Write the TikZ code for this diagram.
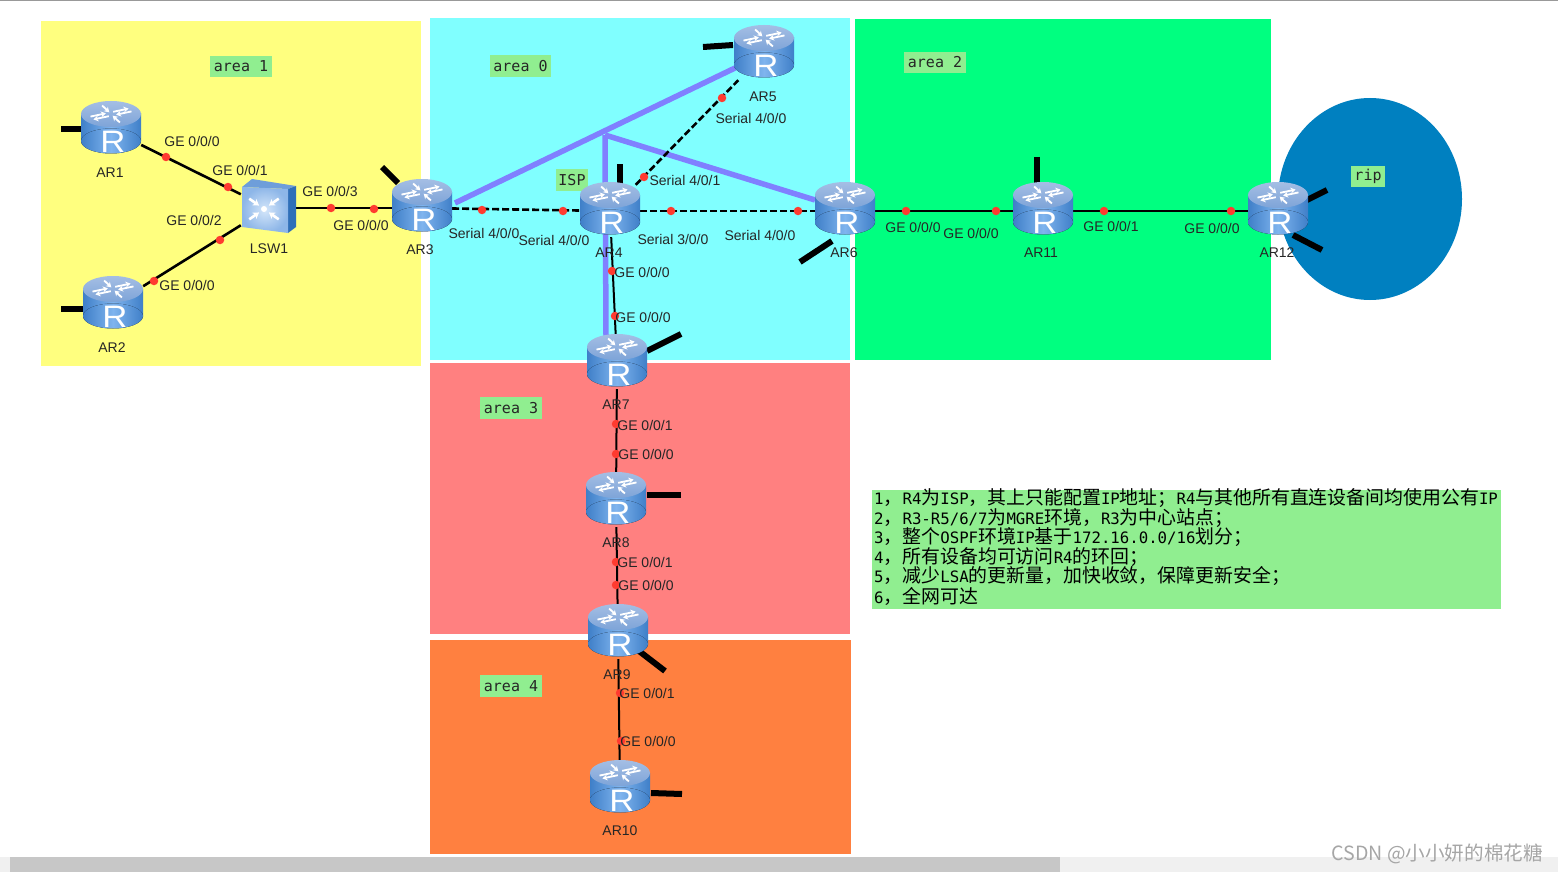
\documentclass[tikz,border=0pt]{standalone}
\usepackage{fontspec}
\setmainfont{Liberation Sans}
\setmonofont{DejaVu Sans Mono}
\newfontfamily\cjk{Noto Sans CJK SC}
\usetikzlibrary{arrows.meta,shapes.geometric}
\definecolor{tagg}{HTML}{90EE90}
\definecolor{purp}{HTML}{8080FF}
\definecolor{rdotc}{HTML}{FF3B30}
\definecolor{rbodyd}{HTML}{3F7FC8}
\definecolor{rbodym}{HTML}{7FB4EE}
\definecolor{rtopa}{HTML}{A4BEE4}
\definecolor{rtopb}{HTML}{7EA4D8}
\definecolor{swtop}{HTML}{6E9EDA}
\definecolor{swright}{HTML}{2F6FB8}
\definecolor{swin}{HTML}{D4E6FA}
\definecolor{swout}{HTML}{8DB6E8}
\newcommand\Mo[1]{{\ttfamily\fontsize{15.7}{15.7}\selectfont #1}}
\newcommand\Ch[1]{{\cjk\fontsize{18.9}{18.9}\selectfont #1}}
\tikzset{
  x=1pt,y=-1pt,
  area/.style={draw=none,inner sep=0pt},
  tag/.style={fill=tagg,inner sep=0pt,font=\ttfamily\fontsize{15}{15}\selectfont,text=black!85},
  lab/.style={inner sep=0pt,font=\fontsize{14}{14}\selectfont,text=black!85},
  rdot/.style={circle,fill=rdotc,inner sep=0pt,minimum size=8.5pt},
  dev/.style={inner sep=0pt,minimum width=60pt,minimum height=52pt},
  link/.style={line width=2.6pt,black},
  dlink/.style={line width=2.6pt,black,dash pattern=on 7pt off 3pt},
  tun/.style={line width=5.5pt,purp},
  stub/.style={line width=6pt,black},
  wharrow/.style={white,line width=1.8pt,-{Stealth[length=5pt,width=6pt]}},
  infoline/.style={anchor=west,inner sep=0pt}
}
\newcommand\routericon[2]{%
\begin{scope}[shift={(#1)}]
  \fill[left color=rbodyd,right color=rbodyd,middle color=rbodym] (-30,-16) rectangle (30,11);
  \fill[left color=rbodyd,right color=rbodyd,middle color=rbodym] (0,11) ellipse [x radius=30,y radius=12.5];
  \shade[top color=rtopa,bottom color=rtopb] (0,-16) ellipse [x radius=30,y radius=13];
  \begin{scope}[shift={(0,-16)},yscale=0.45]
    \foreach \r/\s in {25/1,115/-1,205/1,295/-1}{
      \begin{scope}[rotate=\r]
        \ifnum\s=1 \draw[wharrow] (4,-3.5) -- (21,-3.5); \draw[wharrow] (21,3.5) -- (4,3.5);
        \else \draw[wharrow] (21,0) -- (4,0); \fi
      \end{scope}
    }
  \end{scope}
  \node[inner sep=0pt,text=white,font=\fontsize{31}{31}\selectfont,xscale=1.12] (#2r) at (2,12) {R};
\end{scope}}
\newcommand\Lb[4]{\node[lab] (#1) at (#2,#3) {#4};}
\begin{document}
\begin{tikzpicture}
\useasboundingbox (0,0) rectangle (1558,872);
\fill[white] (0,0) rectangle (1558,872);
\draw[line width=1pt,black!40] (0,0.5) -- (1558,0.5);
% areas
\node[area,fill={rgb,255:red,255;green,255;blue,127},minimum width=380pt,minimum height=345pt] (area1) at (231,193.5) {};
\node[area,fill={rgb,255:red,128;green,255;blue,255},minimum width=420pt,minimum height=342pt] (area0) at (640,189) {};
\node[area,fill={rgb,255:red,0;green,128;blue,192},ellipse,minimum width=184pt,minimum height=202pt] (ripzone) at (1370,199) {};
\node[area,fill={rgb,255:red,0;green,255;blue,128},minimum width=416pt,minimum height=341pt] (area2) at (1063,189.5) {};
\node[area,fill={rgb,255:red,255;green,128;blue,128},minimum width=420pt,minimum height=271pt] (area3) at (640,498.5) {};
\node[area,fill={rgb,255:red,255;green,128;blue,64},minimum width=421pt,minimum height=214pt] (area4) at (640.5,747) {};
% tags
\foreach \n/\t/\a/\b/\w/\h in {t1/area 1/241/66.5/62/21, t0/area 0/520.5/66/61/22, t2/area 2/935/62.5/62/21, t3/area 3/511/408/62/22, t4/area 4/511/686/62/22, tisp/ISP/572/180/32/22, trip/rip/1368/176.5/34/21}{
  \node[tag,minimum width=\w pt,minimum height=\h pt] (\n) at (\a,\b) {\t};
}
% devices
\foreach \n/\a/\b in {AR1/111/130,AR2/113/305,AR3/422/208,AR4/610/211,AR5/764/54,AR6/845/211,AR7/617/363,AR8/616/501,AR9/618/633,AR10/620/789,AR11/1043/211,AR12/1278/211}{
  \node[dev] (\n) at (\a,\b) {};
}
\node[inner sep=0pt,minimum width=55pt,minimum height=54pt] (LSW1) at (268.5,208) {};
% tunnel
\coordinate (tunA) at (455,203);
\coordinate (tunB) at (735,68);
\coordinate (hub) at (605,135);
\coordinate (tunC) at (815,200);
\coordinate (tunD) at (606,336);
\draw[tun] (tunA) -- (tunB);
\draw[tun] (hub) -- (tunC);
\draw[tun] (hub) -- (tunD);
% links
\draw[link] (AR1) -- (LSW1);
\draw[link] (AR2) -- (LSW1);
\draw[link] (LSW1) -- (AR3);
\draw[dlink] (AR3) -- (AR4);
\draw[dlink] (AR4) -- (AR5);
\draw[dlink] (AR4) -- (AR6);
\draw[link,line width=2pt] (AR4) -- (AR7);
\draw[link] (AR6) -- (AR11);
\draw[link] (AR11) -- (AR12);
\draw[link,line width=2pt] (AR7) -- (AR8);
\draw[link,line width=2pt] (AR8) -- (AR9);
\draw[link,line width=2pt] (AR9) -- (AR10);
% loopback stubs
\foreach \a/\b/\c/\d [count=\i] in {61/129/83/129, 61/309/85/309, 382/167/398/183, 620/164/620/184, 703/47/733/45, 800/262/832/241, 647/351/681/334, 647/495/681/495, 639/651/665/671, 651/793/682/794, 1037/157/1037/183, 1305/201/1327/190, 1293/235/1322/250}{
  \coordinate (sa\i) at (\a,\b);
  \coordinate (sb\i) at (\c,\d);
  \draw[stub] (sa\i) -- (sb\i);
}
% icons
\routericon{AR1}{i1}\routericon{AR2}{i2}\routericon{AR3}{i3}\routericon{AR4}{i4}
\routericon{AR5}{i5}\routericon{AR6}{i6}\routericon{AR7}{i7}\routericon{AR8}{i8}
\routericon{AR9}{i9}\routericon{AR10}{i10}\routericon{AR11}{i11}\routericon{AR12}{i12}
% switch
\fill[swtop] (242,187) -- (252,179) -- (296,186) -- (288,189) -- cycle;
\fill[swright] (288,189) -- (296,186) -- (296,227) -- (288,233) -- cycle;
\shade[inner color=swin,outer color=swout] (242,187) -- (288,189) -- (288,233) -- (242,227) -- cycle;
\fill[white] (264,209) circle (3);
\foreach \r in {35,145,215,325}{
  \begin{scope}[shift={(264,209)},rotate=\r]
    \draw[white,line width=2.6pt,-{Stealth[length=6pt,width=7.5pt]}] (18,0) -- (6,0);
  \end{scope}
}
% red dots
\foreach \a/\b [count=\i] in {166/157,228/187,154/281,220/240,331/208,374/209,482/210,563/211,644/177,722/98,671/211,798/211,612/271,615/316,906/211,996/211,1104/211,1231/211,616/424,616/454,616/562,616/585,620/693,621/741}{
  \node[rdot] (dot\i) at (\a,\b) {};
}
% labels
\Lb{l1}{192}{141}{GE 0/0/0}
\Lb{l2}{240}{170}{GE 0/0/1}
\Lb{l3}{194}{220.5}{GE 0/0/2}
\Lb{l4}{330}{191}{GE 0/0/3}
\Lb{l5}{361}{225}{GE 0/0/0}
\Lb{l6}{187}{285}{GE 0/0/0}
\Lb{n1}{110}{173}{AR1}
\Lb{n2}{112}{348}{AR2}
\Lb{n3}{269}{249}{LSW1}
\Lb{n4}{420}{250}{AR3}
\Lb{n5}{609}{253}{AR4}
\Lb{n6}{763}{97}{AR5}
\Lb{n7}{844}{253}{AR6}
\Lb{n8}{616}{405}{AR7}
\Lb{n9}{616}{543}{AR8}
\Lb{n10}{617}{675}{AR9}
\Lb{n11}{620}{831}{AR10}
\Lb{n12}{1041}{253}{AR11}
\Lb{n13}{1277}{253}{AR12}
\Lb{s1}{484}{233}{Serial 4/0/0}
\Lb{s2}{554}{240}{Serial 4/0/0}
\Lb{s3}{673}{239}{Serial 3/0/0}
\Lb{s4}{760}{235}{Serial 4/0/0}
\Lb{s5}{751}{118}{Serial 4/0/0}
\Lb{s6}{685}{180}{Serial 4/0/1}
\Lb{g1}{642}{272}{GE 0/0/0}
\Lb{g2}{643}{317}{GE 0/0/0}
\Lb{g3}{645}{425}{GE 0/0/1}
\Lb{g4}{646}{454}{GE 0/0/0}
\Lb{g5}{645}{562}{GE 0/0/1}
\Lb{g6}{646}{585}{GE 0/0/0}
\Lb{g7}{647}{693}{GE 0/0/1}
\Lb{g8}{648}{741}{GE 0/0/0}
\Lb{g9}{913}{227}{GE 0/0/0}
\Lb{g10}{971}{233}{GE 0/0/0}
\Lb{g11}{1111}{226}{GE 0/0/1}
\Lb{g12}{1212}{228}{GE 0/0/0}
% info box
\node[fill=tagg,inner sep=0pt,minimum width=629pt,minimum height=119pt] (info) at (1186.5,549.5) {};
\node[infoline] (i1) at (874,498) {\Mo{1}\Ch{，}\Mo{R4}\Ch{为}\Mo{ISP}\Ch{，其上只能配置}\Mo{IP}\Ch{地址；}\Mo{R4}\Ch{与其他所有直连设备间均使用公有}\Mo{IP}};
\node[infoline] (i2) at (874,518) {\Mo{2}\Ch{，}\Mo{R3-R5/6/7}\Ch{为}\Mo{MGRE}\Ch{环境，}\Mo{R3}\Ch{为中心站点；}};
\node[infoline] (i3) at (874,537) {\Mo{3}\Ch{，整个}\Mo{OSPF}\Ch{环境}\Mo{IP}\Ch{基于}\Mo{172.16.0.0/16}\Ch{划分；}};
\node[infoline] (i4) at (874,557) {\Mo{4}\Ch{，所有设备均可访问}\Mo{R4}\Ch{的环回；}};
\node[infoline] (i5) at (874,576) {\Mo{5}\Ch{，减少}\Mo{LSA}\Ch{的更新量，加快收敛，保障更新安全；}};
\node[infoline] (i6) at (874,596) {\Mo{6}\Ch{，全网可达}};
% scrollbar
\fill[black!6] (0,857) rectangle (1558,872);
\fill[black!22] (10,857) rectangle (1060,872);
\node[inner sep=0pt,anchor=east,text=black!35,font=\cjk\fontsize{19.6}{19.6}\selectfont] (wm) at (1543,854) {CSDN @小小妍的棉花糖};
\end{tikzpicture}
\end{document}
